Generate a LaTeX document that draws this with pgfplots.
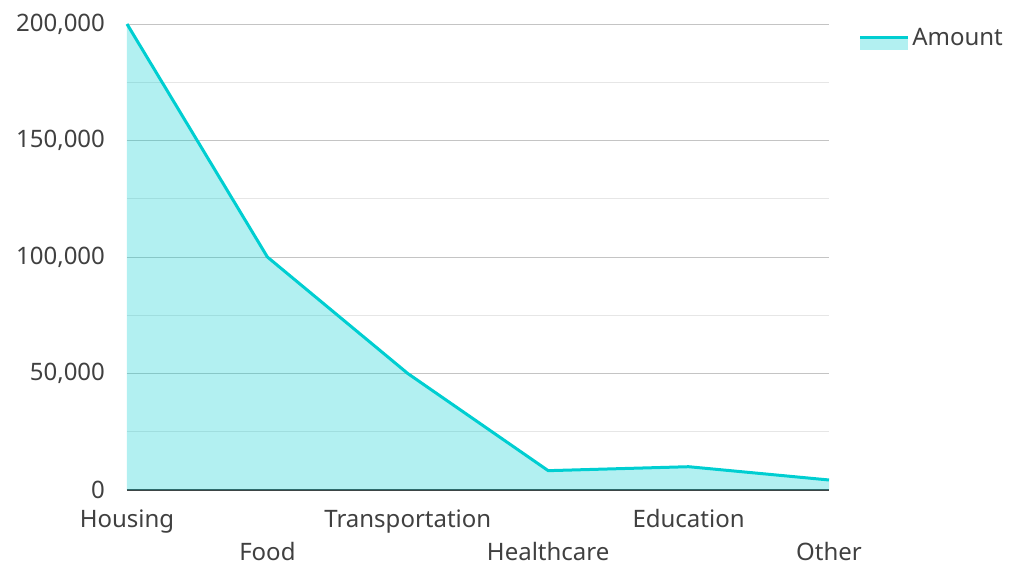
\documentclass[border=0pt]{standalone}
\usepackage{pgfplots}
\pgfplotsset{compat=1.18}
\usepackage{fontspec}
\setmainfont{Noto Sans}
\definecolor{turq}{HTML}{00CED1}
\definecolor{txt}{HTML}{404040}
\definecolor{majgrid}{HTML}{C4C4C4}
\definecolor{mingrid}{HTML}{E6E6E6}

\pgfplotstableread{
x y
0 200000
1 100000
2 50000
3 8300
4 10000
5 4300
}\spend

\begin{document}
\begin{tikzpicture}
\begin{axis}[
    scale only axis,
    width=526.5pt, height=349.5pt,
    xmin=0, xmax=5, ymin=0, ymax=200000,
    axis x line*=bottom, axis y line*=left,
    y axis line style={draw=none},
    x axis line style={draw=txt, line width=1.5pt, -},
    major tick length=0pt, minor tick length=0pt,
    ytick={0,50000,100000,150000,200000},
    minor y tick num=1,
    ymajorgrids, yminorgrids,
    major grid style={majgrid, line width=0.75pt},
    minor grid style={mingrid, line width=0.75pt},
    scaled y ticks=false,
    /pgf/number format/fixed,
    /pgf/number format/1000 sep={,},
    /pgf/number format/assume math mode=true,
    tick label style={font=\fontsize{18}{21}\selectfont, text=txt},
    yticklabel style={xshift=-13pt},
    xtick={0,2,4},
    xticklabels={Housing,Transportation,Education},
    xticklabel style={yshift=-11pt},
    extra x ticks={1,3,5},
    extra x tick labels={Food,Healthcare,Other},
    extra x tick style={xticklabel style={yshift=-28.1pt, inner sep=0pt}, grid=none},
    legend style={at={(rel axis cs:1,1)}, anchor=north west, xshift=19pt, yshift=1pt,
        draw=none, fill=none, font=\fontsize{18}{21}\selectfont, text=txt,
        /tikz/every even column/.append style={column sep=0pt}},
    legend image code/.code={
        \path[fill=turq, fill opacity=0.3, draw=none] (0pt,-9pt) rectangle (36pt,0.5pt);
        \path[draw=turq, line width=2.25pt] (0pt,0pt) -- (36pt,0pt);
    },
    clip=false,
]
\addplot[draw=none, fill=turq, fill opacity=0.3, forget plot] table[x=x,y=y] {\spend} \closedcycle;
\addplot[turq, line width=2.25pt, line join=round] table[x=x,y=y] {\spend};
\addlegendentry{Amount}
\coordinate (A) at (rel axis cs:0,0);
\end{axis}
\pgfresetboundingbox
\path[use as bounding box] (A) ++(-95.25pt,-54pt) rectangle ++(758.25pt,421.5pt);
\end{tikzpicture}
\end{document}
